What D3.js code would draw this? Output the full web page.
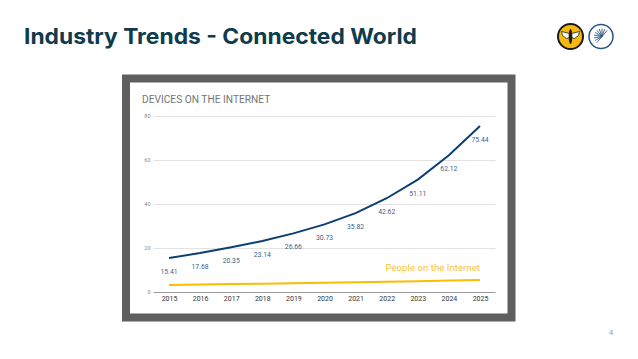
<!DOCTYPE html>
<html>
<head>
<meta charset="utf-8">
<script src="https://cdn.jsdelivr.net/npm/d3@7"></script>
<style>
  html, body { margin: 0; padding: 0; background: #fff; }
  svg { display: block; }
  text { font-family: Roboto, sans-serif; }
</style>
</head>
<body>
<svg id="slide" width="638" height="359"></svg>
<script>
const years = ["2015","2016","2017","2018","2019","2020","2021","2022","2023","2024","2025"];
const devices = [15.41,17.68,20.35,23.14,26.66,30.73,35.82,42.62,51.11,62.12,75.44];
const people = [3.2,3.4,3.6,3.8,4.0,4.2,4.4,4.7,4.9,5.2,5.4];
const yTicks = [0,20,40,60,80];

const svg = d3.select("#slide");

// slide title
svg.append("text")
  .attr("x", 24)
  .attr("y", 44)
  .attr("textLength", 393)
  .attr("lengthAdjust", "spacingAndGlyphs")
  .style("font-family", "Inter, sans-serif")
  .style("font-size", "21.5px")
  .style("font-weight", 700)
  .attr("fill", "#0f3b4d")
  .text("Industry Trends - Connected World");

// grey frame round the pasted chart
svg.append("rect")
  .attr("x", 126)
  .attr("y", 78.5)
  .attr("width", 385.5)
  .attr("height", 239)
  .attr("fill", "#fff")
  .attr("stroke", "#5f5f5f")
  .attr("stroke-width", 8);

svg.append("text")
  .attr("x", 142)
  .attr("y", 103)
  .attr("font-size", 10.2)
  .attr("fill", "#757575")
  .text("DEVICES ON THE INTERNET");

const x = d3.scalePoint().domain(years).range([169, 480]);
const y = d3.scaleLinear().domain([0, 80]).range([292, 116]);

// gridlines + y labels
const yAxis = svg.append("g")
  .attr("transform", "translate(153.5,0)")
  .call(d3.axisLeft(y).tickValues(yTicks).tickSize(-342).tickPadding(3));
yAxis.select(".domain").remove();
yAxis.selectAll(".tick line").attr("stroke", "#e2e2e2");
yAxis.selectAll(".tick text")
  .attr("fill", "#8a8a8a")
  .style("font-size", "5.5px");
yAxis.selectAll(".tick")
  .filter(d => d === 0)
  .select("line")
  .attr("stroke", "#9a9a9a");

// x labels
const xAxis = svg.append("g")
  .attr("transform", "translate(0,292)")
  .call(d3.axisBottom(x).tickSize(0).tickPadding(4));
xAxis.select(".domain").remove();
xAxis.selectAll(".tick text")
  .attr("fill", "#333")
  .style("font-size", "7px");

const line = d3.line()
  .x((d, i) => x(years[i]))
  .y(d => y(d));

svg.append("path")
  .datum(devices)
  .attr("fill", "none")
  .attr("stroke", "#0b3f73")
  .attr("stroke-width", 2)
  .attr("d", line);

svg.append("path")
  .datum(people)
  .attr("fill", "none")
  .attr("stroke", "#fbbc04")
  .attr("stroke-width", 2)
  .attr("d", line);

svg.append("g")
  .selectAll("text")
  .data(devices)
  .join("text")
  .attr("x", (d, i) => x(years[i]))
  .attr("y", d => y(d) + 16)
  .attr("text-anchor", "middle")
  .attr("font-size", 6.8)
  .attr("fill", "#3d618c")
  .text(d => d.toFixed(2));

svg.append("text")
  .attr("x", 480)
  .attr("y", 271)
  .attr("text-anchor", "end")
  .attr("font-size", 9.7)
  .attr("fill", "#f5c33b")
  .text("People on the Internet");

// bee badge
const bee = svg.append("g").attr("transform", "translate(570.5,36.5)");
bee.append("circle").attr("r", 12.5).attr("fill", "#f6b90f").attr("stroke", "#1c1c1c").attr("stroke-width", 2);
bee.append("path").attr("d", "M-1,-3L-9,-5L-8,-1L-4,2L-1,1Z").attr("fill", "#fff").attr("stroke", "#1c1c1c").attr("stroke-width", 0.8);
bee.append("path").attr("d", "M1,-3L9,-5L8,-1L4,2L1,1Z").attr("fill", "#fff").attr("stroke", "#1c1c1c").attr("stroke-width", 0.8);
bee.append("ellipse").attr("cy", 0).attr("rx", 1.8).attr("ry", 7.5).attr("fill", "#1c1c1c");

// starburst badge
const burst = svg.append("g").attr("transform", "translate(601,36.5)");
burst.append("circle").attr("r", 12).attr("fill", "#fff").attr("stroke", "#2a5482").attr("stroke-width", 1.5);
const rays = [-170,-150,-130,-110,-90,-70,-50,130,150,170];
burst.selectAll("line")
  .data(rays)
  .join("line")
  .attr("x1", 1)
  .attr("y1", 0)
  .attr("x2", d => 1 + 8 * Math.cos(d * Math.PI / 180))
  .attr("y2", d => 8 * Math.sin(d * Math.PI / 180))
  .attr("stroke", "#2a5482")
  .attr("stroke-width", 0.9);

// page number
svg.append("text")
  .attr("x", 611)
  .attr("y", 335)
  .attr("text-anchor", "middle")
  .attr("font-size", 7.5)
  .attr("fill", "#9a9a9a")
  .text("4");
</script>
</body>
</html>
